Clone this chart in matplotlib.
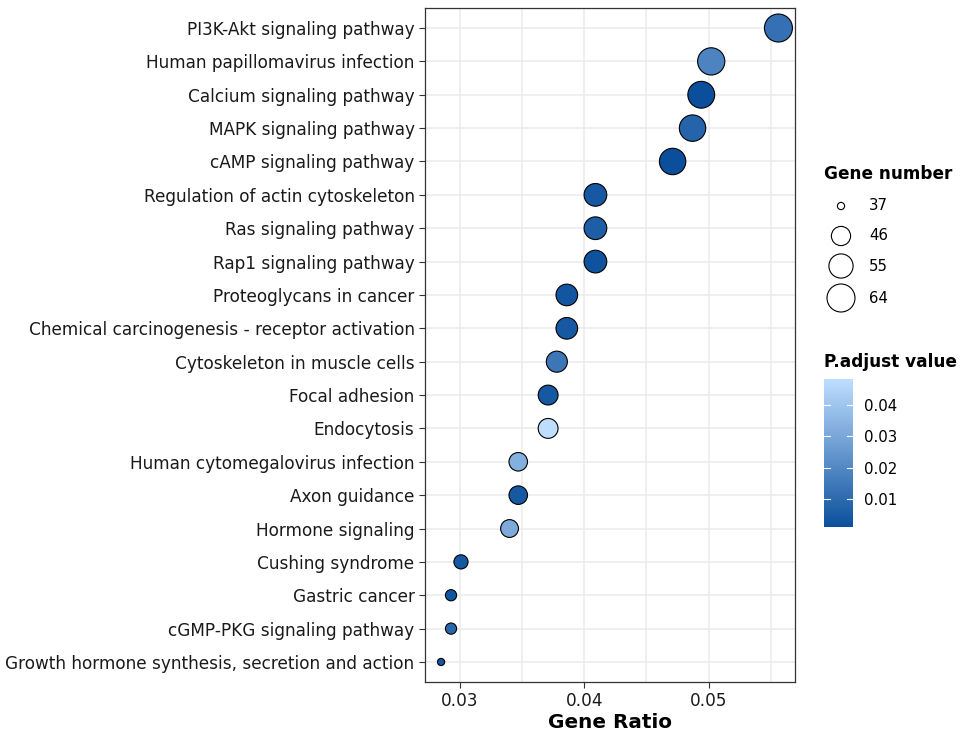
import numpy as np
import matplotlib.pyplot as plt
from matplotlib.colors import LinearSegmentedColormap, Normalize
from matplotlib.ticker import MultipleLocator
import matplotlib.colorbar as mcolorbar

# pathways, top to bottom
pathways = ["PI3K-Akt signaling pathway", "Human papillomavirus infection",
            "Calcium signaling pathway", "MAPK signaling pathway",
            "cAMP signaling pathway", "Regulation of actin cytoskeleton",
            "Ras signaling pathway", "Rap1 signaling pathway",
            "Proteoglycans in cancer", "Chemical carcinogenesis - receptor activation",
            "Cytoskeleton in muscle cells", "Focal adhesion", "Endocytosis",
            "Human cytomegalovirus infection", "Axon guidance", "Hormone signaling",
            "Cushing syndrome", "Gastric cancer", "cGMP-PKG signaling pathway",
            "Growth hormone synthesis, secretion and action"]
gene_ratio = [0.0556, 0.0502, 0.0494, 0.0487, 0.0471, 0.0409, 0.0409, 0.0409,
              0.0386, 0.0386, 0.0378, 0.0371, 0.0371, 0.0347, 0.0347, 0.0340,
              0.0301, 0.0293, 0.0293, 0.0285]
gene_number = [64, 62, 61, 60, 60, 52, 52, 52, 50, 50, 49, 47, 47, 45, 45, 44,
               40, 38, 38, 37]
p_adjust = [0.012, 0.018, 0.001, 0.008, 0.001, 0.004, 0.006, 0.002, 0.003, 0.004,
            0.014, 0.004, 0.0483, 0.033, 0.004, 0.031, 0.004, 0.003, 0.009, 0.003]

size_breaks = [37, 46, 55, 64]
color_breaks = [0.01, 0.02, 0.03, 0.04]

cmap = LinearSegmentedColormap.from_list("blues", ["#0B4F9C", "#BEDEFF"])
norm = Normalize(vmin=min(p_adjust), vmax=max(p_adjust))


def radius_px(n):
    # ggplot scale_size: radius grows with sqrt of the rescaled value
    lo, hi = min(gene_number), max(gene_number)
    return 3.6 + 10.4 * np.sqrt((np.asarray(n) - lo) / (hi - lo))


def marker_area(n):
    d_pt = 2 * radius_px(n) * 72 / 100
    return d_pt ** 2


W, H = 976, 735
fig = plt.figure(figsize=(W / 100, H / 100), dpi=100)
ax = fig.add_axes([425 / W, 1 - 682 / H, 370 / W, 674 / H])

ypos = np.arange(len(pathways))[::-1] + 1
ax.scatter(gene_ratio, ypos, s=marker_area(gene_number), c=p_adjust, cmap=cmap,
           norm=norm, edgecolors="black", linewidths=0.8, zorder=3)

ax.set_ylim(0.4, len(pathways) + 0.6)
ax.set_xlim(0.02721, 0.05693)
ax.set_yticks(ypos)
ax.set_yticklabels(pathways, fontsize=12.2, color="#1a1a1a")
ax.xaxis.set_minor_locator(MultipleLocator(0.005))
ax.set_xticks([0.03, 0.04, 0.05])
ax.set_xticklabels(["0.03", "0.04", "0.05"], fontsize=12.2, color="#1a1a1a")
ax.tick_params(axis="both", length=4, width=0.8, color="#333333")
ax.tick_params(axis="x", which="minor", length=0)
ax.grid(True, which="both", color="#EBEBEB", linewidth=1.1, zorder=0)
ax.set_axisbelow(True)
for sp in ax.spines.values():
    sp.set_color("#333333")
    sp.set_linewidth(0.9)
ax.set_xlabel("Gene Ratio", fontsize=14.4, fontweight="bold", labelpad=2)

# size legend
fig.text(824 / W, 1 - 174 / H, "Gene number", fontsize=12.2, fontweight="bold",
         va="center", ha="left")
lax = fig.add_axes([820 / W, 1 - 315 / H, 60 / W, 125 / H])
lax.set_xlim(0, 60)
lax.set_ylim(315, 190)
leg_y = [206, 236, 266, 298]
lax.scatter([21] * len(size_breaks), leg_y, s=marker_area(size_breaks),
            facecolors="white", edgecolors="black", linewidths=0.8)
for yy, b in zip(leg_y, size_breaks):
    fig.text(869 / W, 1 - yy / H, str(b), fontsize=10.8, va="center", ha="left")
lax.axis("off")

# colour legend
fig.text(824 / W, 1 - 362 / H, "P.adjust value", fontsize=12.2, fontweight="bold",
         va="center", ha="left")
cax = fig.add_axes([824 / W, 1 - 527 / H, 29 / W, 148 / H])
cb = mcolorbar.ColorbarBase(cax, cmap=cmap, norm=norm, ticks=color_breaks)
cb.outline.set_visible(False)
cb.ax.tick_params(length=0, labelsize=10.8, pad=8)
cb.ax.set_yticklabels([f"{v:.2f}" for v in color_breaks])
for v in color_breaks:
    cax.plot([0, 0.2], [v, v], color="white", lw=0.8, transform=cax.get_yaxis_transform())
    cax.plot([0.8, 1], [v, v], color="white", lw=0.8, transform=cax.get_yaxis_transform())

fig.savefig("out.png", dpi=100)
